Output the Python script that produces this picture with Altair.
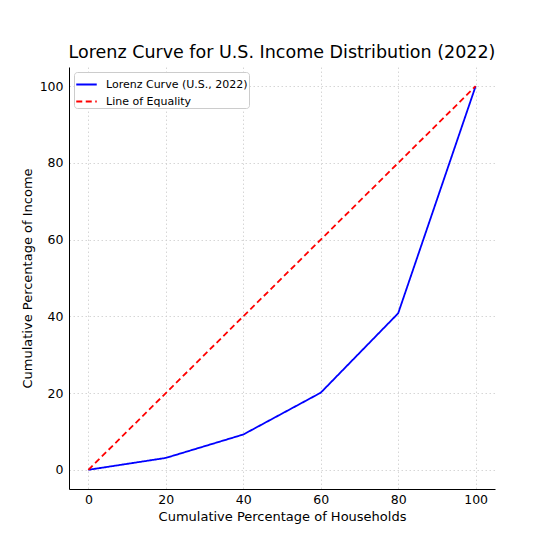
import altair as alt
import pandas as pd

households = [0, 20, 40, 60, 80, 100]
lorenz_income = [0, 3.1, 9.2, 20.1, 40.8, 100]
equality_income = [0, 20, 40, 60, 80, 100]
series_names = ["Lorenz Curve (U.S., 2022)", "Line of Equality"]

FONT = "DejaVu Sans"

data = pd.DataFrame({
    "households": households * 2,
    "income": lorenz_income + equality_income,
    "series": [series_names[0]] * len(households) + [series_names[1]] * len(households),
})

chart = (
    alt.Chart(data, title=alt.Title(
        "Lorenz Curve for U.S. Income Distribution (2022)",
        fontSize=17.5, fontWeight="normal", font=FONT, color="#000000", offset=6,
    ))
    .mark_line(strokeWidth=1.8)
    .encode(
        x=alt.X(
            "households:Q",
            scale=alt.Scale(domain=[-5, 105], nice=False, zero=False),
            axis=alt.Axis(values=[0, 20, 40, 60, 80, 100], title="Cumulative Percentage of Households"),
        ),
        y=alt.Y(
            "income:Q",
            scale=alt.Scale(domain=[-5, 105], nice=False, zero=False),
            axis=alt.Axis(values=[0, 20, 40, 60, 80, 100], title="Cumulative Percentage of Income"),
        ),
        color=alt.Color(
            "series:N",
            scale=alt.Scale(domain=series_names, range=["#0000ff", "#ff0000"]),
            legend=alt.Legend(title=None),
        ),
        strokeDash=alt.StrokeDash(
            "series:N",
            scale=alt.Scale(domain=series_names, range=[[1, 0], [6, 3.5]]),
            legend=alt.Legend(title=None),
        ),
        order="households:Q",
    )
    .properties(
        width=426,
        height=422,
        autosize=alt.AutoSizeParams(type="none"),
        padding={"left": 61, "top": 59, "right": 40, "bottom": 60},
    )
    .configure_view(stroke=None)
    .configure_axis(
        grid=True,
        gridColor="#cccccc",
        gridDash=[1.5, 2.5],
        gridWidth=0.8,
        domainColor="#000000",
        domainWidth=1,
        ticks=False,
        labelFont=FONT,
        labelFontSize=12.5,
        labelColor="#000000",
        titleFont=FONT,
        titleFontSize=13,
        titleFontWeight="normal",
        titleColor="#000000",
    )
    .configure_axisX(labelPadding=4, titlePadding=5)
    .configure_axisY(labelPadding=6, titlePadding=5)
    .configure_legend(
        orient="top-left",
        offset=5,
        symbolType="stroke",
        symbolSize=420,
        symbolStrokeWidth=1.8,
        labelFont=FONT,
        labelFontSize=11,
        labelColor="#000000",
        labelOffset=8,
        strokeColor="#cccccc",
        fillColor="#ffffff",
        padding=1,
        cornerRadius=3,
        rowPadding=0,
    )
)

chart.save("out.html", embed_options={"renderer": "svg", "actions": False})
